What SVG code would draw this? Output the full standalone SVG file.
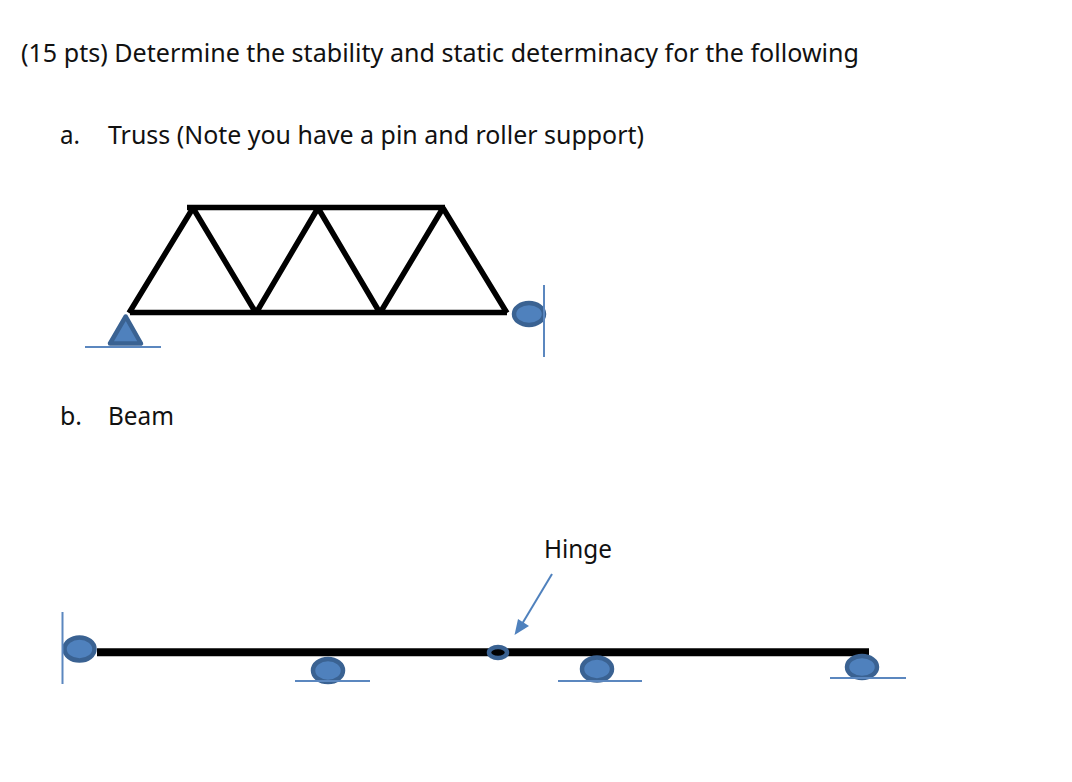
<svg xmlns="http://www.w3.org/2000/svg" width="1072" height="782" viewBox="0 0 1072 782">
<style>
text{font-family:"Noto Sans","Open Sans","Liberation Sans",sans-serif;font-size:25px;fill:#111}
.m{stroke:#000;fill:none;stroke-linecap:butt;stroke-linejoin:bevel}
.t{stroke-width:5.5}
.b{stroke-width:8}
.g{stroke:#5b87bf;stroke-width:2;fill:none}
.r{fill:#4f81bd;stroke:#3a6292;stroke-width:4.5;stroke-linejoin:round}
</style>
<rect width="1072" height="782" fill="#fff"/>
<g id="labels">
<text x="21" y="62" textLength="838" lengthAdjust="spacingAndGlyphs">(15 pts) Determine the stability and static determinacy for the following</text>
<text x="60" y="144" textLength="20" lengthAdjust="spacingAndGlyphs">a.</text>
<text x="108" y="144" textLength="536" lengthAdjust="spacingAndGlyphs">Truss (Note you have a pin and roller support)</text>
<text x="60" y="425" textLength="22" lengthAdjust="spacingAndGlyphs">b.</text>
<text x="108" y="425" textLength="66" lengthAdjust="spacingAndGlyphs">Beam</text>
<text x="544" y="558" textLength="68" lengthAdjust="spacingAndGlyphs">Hinge</text>
</g>
<g id="connectors">
<path class="m t" d="M187 207.500H445M130 312.500H507M129 313L193 208L256 313L318 208L380 313L443 208L507 313"/>
<path class="m b" d="M97 652.300H869"/>
<path d="M552 574L519 629" stroke="#4f81bd" stroke-width="2" fill="none"/>
<path d="M514.500 635L518 619L529 626Z" fill="#4f81bd"/>
</g>
<g id="pin-support">
<path class="r" d="M125.700 316.500L141 343.500H110Z"/>
<path class="g" d="M85 347H161"/>
</g>
<g id="truss-roller">
<ellipse class="r" cx="529" cy="314" rx="15" ry="11"/>
<path class="g" d="M544 285V357"/>
</g>
<g id="beam-left-roller">
<ellipse class="r" cx="79.500" cy="649" rx="15" ry="11.500"/>
<path class="g" d="M62.500 612V684"/>
</g>
<g id="beam-roller-2">
<ellipse class="r" cx="328" cy="670.500" rx="15" ry="11.500"/>
<path class="g" d="M295 681H370"/>
</g>
<g id="hinge">
<ellipse cx="498" cy="652.500" rx="9" ry="5.500" fill="none" stroke="#3a6292" stroke-width="4.500"/>
</g>
<g id="beam-roller-3">
<ellipse class="r" cx="597" cy="669" rx="15" ry="11.500"/>
<path class="g" d="M558 681H642"/>
</g>
<g id="beam-roller-4">
<ellipse class="r" cx="862" cy="667" rx="15" ry="11"/>
<path class="g" d="M830 678H906"/>
</g>
</svg>
